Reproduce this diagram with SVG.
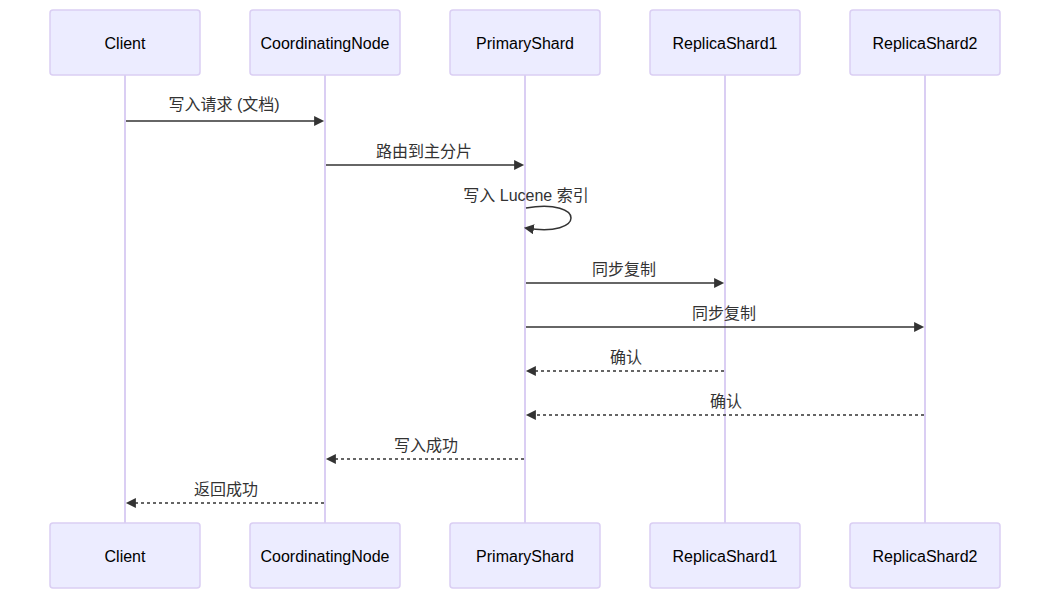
<svg xmlns="http://www.w3.org/2000/svg" width="1050" height="599" viewBox="0 0 1050 599">
<style>
.actor{fill:#ECECFF;stroke:#DACEF3;stroke-width:1.5}
.life{stroke:#DACEF3;stroke-width:2}
.at{font-family:"Liberation Sans","Noto Sans CJK SC",sans-serif;font-size:16px;fill:#000;text-anchor:middle}
.mt{font-family:"Liberation Sans","Noto Sans CJK SC",sans-serif;font-size:16px;fill:#333;text-anchor:middle}
.msg{stroke:#333;stroke-width:1.5;fill:none}
.dash{stroke-dasharray:3,3}
</style>
<defs>
<marker id="ah" markerUnits="userSpaceOnUse" markerWidth="12" markerHeight="12" refX="7.9" refY="5" orient="auto">
<path d="M0,0 L10,5 L0,10 z" fill="#333"/>
</marker>
</defs>
<rect width="1050" height="599" fill="#fff"/>
<g id="lifelines">
<line class="life" x1="125" y1="75" x2="125" y2="523"/>
<line class="life" x1="325" y1="75" x2="325" y2="523"/>
<line class="life" x1="525" y1="75" x2="525" y2="523"/>
<line class="life" x1="725" y1="75" x2="725" y2="523"/>
<line class="life" x1="925" y1="75" x2="925" y2="523"/>
</g>
<g id="Client"><rect class="actor" x="50" y="10" width="150" height="65" rx="3"/><text class="at" x="125" y="49">Client</text></g>
<g id="CoordinatingNode"><rect class="actor" x="250" y="10" width="150" height="65" rx="3"/><text class="at" x="325" y="49">CoordinatingNode</text></g>
<g id="PrimaryShard"><rect class="actor" x="450" y="10" width="150" height="65" rx="3"/><text class="at" x="525" y="49">PrimaryShard</text></g>
<g id="ReplicaShard1"><rect class="actor" x="650" y="10" width="150" height="65" rx="3"/><text class="at" x="725" y="49">ReplicaShard1</text></g>
<g id="ReplicaShard2"><rect class="actor" x="850" y="10" width="150" height="65" rx="3"/><text class="at" x="925" y="49">ReplicaShard2</text></g>
<g id="Client-bottom"><rect class="actor" x="50" y="523" width="150" height="65" rx="3"/><text class="at" x="125" y="562">Client</text></g>
<g id="CoordinatingNode-bottom"><rect class="actor" x="250" y="523" width="150" height="65" rx="3"/><text class="at" x="325" y="562">CoordinatingNode</text></g>
<g id="PrimaryShard-bottom"><rect class="actor" x="450" y="523" width="150" height="65" rx="3"/><text class="at" x="525" y="562">PrimaryShard</text></g>
<g id="ReplicaShard1-bottom"><rect class="actor" x="650" y="523" width="150" height="65" rx="3"/><text class="at" x="725" y="562">ReplicaShard1</text></g>
<g id="ReplicaShard2-bottom"><rect class="actor" x="850" y="523" width="150" height="65" rx="3"/><text class="at" x="925" y="562">ReplicaShard2</text></g>
<g id="connectors">
<line class="msg" x1="126" y1="121" x2="322" y2="121" marker-end="url(#ah)"/>
<text class="mt" x="224" y="110">写入请求 (文档)</text>
<line class="msg" x1="326" y1="165" x2="522" y2="165" marker-end="url(#ah)"/>
<text class="mt" x="424" y="157">路由到主分片</text>
<path class="msg" d="M526,208 C586,198 586,238 526,228" marker-end="url(#ah)"/>
<text class="mt" x="526" y="201">写入 Lucene 索引</text>
<line class="msg" x1="526" y1="283" x2="722" y2="283" marker-end="url(#ah)"/>
<text class="mt" x="624" y="275">同步复制</text>
<line class="msg" x1="526" y1="327" x2="922" y2="327" marker-end="url(#ah)"/>
<text class="mt" x="724" y="319">同步复制</text>
<line class="msg dash" x1="724" y1="371" x2="528" y2="371" marker-end="url(#ah)"/>
<text class="mt" x="626" y="363">确认</text>
<line class="msg dash" x1="924" y1="415" x2="528" y2="415" marker-end="url(#ah)"/>
<text class="mt" x="726" y="407">确认</text>
<line class="msg dash" x1="524" y1="459" x2="328" y2="459" marker-end="url(#ah)"/>
<text class="mt" x="426" y="451">写入成功</text>
<line class="msg dash" x1="324" y1="503" x2="128" y2="503" marker-end="url(#ah)"/>
<text class="mt" x="226" y="495">返回成功</text>
</g>
</svg>
